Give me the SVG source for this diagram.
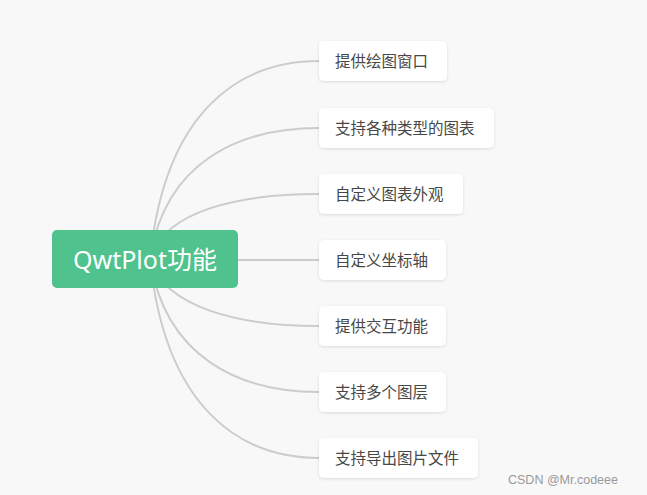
<svg xmlns="http://www.w3.org/2000/svg" width="647" height="495" viewBox="0 0 647 495">
<defs>
<filter id="sh" x="-20%" y="-30%" width="140%" height="160%">
<feDropShadow dx="0" dy="1" stdDeviation="1.5" flood-color="#000" flood-opacity="0.12"/>
</filter>
<style>
.edge{fill:none;stroke:#cccccc;stroke-width:2}
.box{fill:#ffffff;filter:url(#sh)}
.lbl{font-family:"Noto Sans CJK SC","Microsoft YaHei",sans-serif;font-size:15.5px;fill:#474747}
.root{fill:#50c28d}
.rlbl{font-family:"Noto Sans","Noto Sans CJK SC",sans-serif;font-size:25px;fill:#ffffff}
</style>
</defs>
<rect width="647" height="495" fill="#f8f8f8"/>
<g id="connectors">
<path class="edge" d="M150,259 C165,110 240,61 319,61"/>
<path class="edge" d="M150,259 C165,161 240,128 319,128"/>
<path class="edge" d="M150,259 C165,210 240,194 319,194"/>
<path class="edge" d="M238,260 L319,260"/>
<path class="edge" d="M150,259 C165,308 240,326 319,326"/>
<path class="edge" d="M150,259 C165,358 240,392 319,392"/>
<path class="edge" d="M150,259 C165,408 240,458 319,458"/>
</g>
<g id="root">
<rect class="root" x="52" y="230" width="186" height="58" rx="5"/>
<text class="rlbl" x="145" y="268.5" text-anchor="middle">QwtPlot功能</text>
</g>
<g id="n1"><rect class="box" x="319" y="41" width="128" height="40" rx="5"/><text class="lbl" x="335" y="66.5">提供绘图窗口</text></g>
<g id="n2"><rect class="box" x="319" y="108" width="175" height="40" rx="5"/><text class="lbl" x="335" y="133.5">支持各种类型的图表</text></g>
<g id="n3"><rect class="box" x="319" y="174" width="144" height="40" rx="5"/><text class="lbl" x="335" y="199.5">自定义图表外观</text></g>
<g id="n4"><rect class="box" x="319" y="240" width="127" height="40" rx="5"/><text class="lbl" x="335" y="265.5">自定义坐标轴</text></g>
<g id="n5"><rect class="box" x="319" y="306" width="127" height="40" rx="5"/><text class="lbl" x="335" y="331.5">提供交互功能</text></g>
<g id="n6"><rect class="box" x="319" y="372" width="127" height="40" rx="5"/><text class="lbl" x="335" y="397.5">支持多个图层</text></g>
<g id="n7"><rect class="box" x="319" y="438" width="159" height="40" rx="5"/><text class="lbl" x="335" y="463.5">支持导出图片文件</text></g>
<text x="508" y="484" font-family="Liberation Sans, Arial, sans-serif" font-size="12.5" fill="#9a9a9a">CSDN @Mr.codeee</text>
</svg>
